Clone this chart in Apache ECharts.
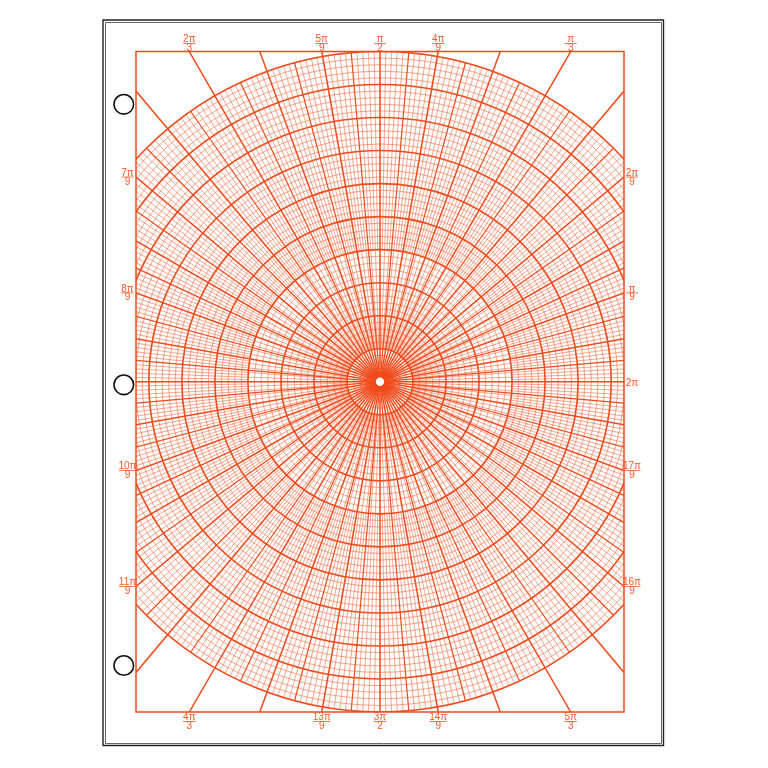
<!DOCTYPE html>
<html><head><meta charset="utf-8">
<script src="https://cdn.jsdelivr.net/npm/echarts@6/dist/echarts.min.js"></script>
<style>html,body{margin:0;padding:0;background:#fff}#c{width:768px;height:768px}</style>
</head><body><div id="c"></div>
<script>
// ---- grid parameters (polar graph paper) ----
const majorRadii = [1, 2, 3, 4, 5, 6, 7, 8, 9, 10];
const minorPerRing = 5;
const hubRadius = 0.15;
const ringAngleSteps = [5, 2, 2, 2, 1, 1, 1, 1, 1, 1]; // thin radial spacing (deg) per ring
const majorAngleStep = 10;
const mediumAngleStep = 5;
// ---- angle labels ----
const labelAngles = [120, 100, 90, 80, 60, 140, 160, 200, 220, 40, 20, 0, 340, 320, 240, 260, 270, 280, 300];
const labelNums = ['2π', '5π', 'π', '4π', 'π', '7π', '8π', '10π', '11π', '2π', 'π', '2π', '17π', '16π', '4π', '13π', '3π', '14π', '5π'];
const labelDens = ['3', '9', '2', '9', '3', '9', '9', '9', '9', '9', '9', '', '9', '9', '3', '9', '2', '9', '3'];

const yHalf = 10;
const xHalf = 10 * 488 / 660.5;
const MAJOR = '#f04a1a';
const MINOR = 'rgba(242,88,42,0.7)';
const LABEL = '#f05a28';

function edgeDist(aDeg) {
  const a = aDeg * Math.PI / 180, c = Math.abs(Math.cos(a)), s = Math.abs(Math.sin(a));
  return Math.min(c > 1e-9 ? xHalf / c : 1e9, s > 1e-9 ? yHalf / s : 1e9);
}

// circles: [radius, level]
const circleData = [];
for (let k = 1; k <= majorRadii.length; k++) {
  for (let j = 1; j < minorPerRing; j++) circleData.push([k - 1 + j / minorPerRing, 0]);
}
circleData.push([hubRadius, 2]);
majorRadii.forEach(r => circleData.push([r, 2]));

// radials: [angle, r0, r1, level]
const radialMinor = [], radialMajor = [];
for (let a = 0; a < 360; a++) {
  if (a % majorAngleStep === 0) radialMajor.push([a, hubRadius, edgeDist(a), 2]);
  else if (a % mediumAngleStep === 0) radialMajor.push([a, hubRadius, 10, 1]);
  else {
    const k = ringAngleSteps.findIndex(s => a % s === 0);
    if (k >= 0) radialMinor.push([a, k === 0 ? hubRadius : k, 10, 0]);
  }
}
const radialData = radialMinor.concat(radialMajor);
const labelData = labelAngles.map((a, i) => [a, i]);

function clipOf(params) {
  const cs = params.coordSys;
  return { type: 'rect', shape: { x: cs.x, y: cs.y, width: cs.width, height: cs.height } };
}
function renderCircle(params, api) {
  const r = api.value(0), lvl = api.value(1);
  const c = api.coord([0, 0]), e = api.coord([r, 0]);
  return {
    type: 'group',
    clipPath: clipOf(params),
    children: [{
      type: 'circle',
      shape: { cx: c[0], cy: c[1], r: e[0] - c[0] },
      style: { fill: null, stroke: lvl ? MAJOR : MINOR, lineWidth: lvl ? 1.6 : 0.75 }
    }]
  };
}
function renderRadial(params, api) {
  const a = api.value(0) * Math.PI / 180, r0 = api.value(1), r1 = api.value(2), lvl = api.value(3);
  const p0 = api.coord([r0 * Math.cos(a), r0 * Math.sin(a)]);
  const p1 = api.coord([r1 * Math.cos(a), r1 * Math.sin(a)]);
  return {
    type: 'group',
    clipPath: clipOf(params),
    children: [{
      type: 'line',
      shape: { x1: p0[0], y1: p0[1], x2: p1[0], y2: p1[1] },
      style: { stroke: lvl ? MAJOR : MINOR, lineWidth: lvl === 2 ? 1.5 : (lvl === 1 ? 1.2 : 0.75) }
    }]
  };
}
function renderLabel(params, api) {
  const aDeg = api.value(0), i = api.value(1);
  const a = aDeg * Math.PI / 180, t = edgeDist(aDeg);
  const p = api.coord([t * Math.cos(a), t * Math.sin(a)]);
  const side = Math.abs(t * Math.cos(a)) > xHalf - 1e-6;
  let x = p[0], y = p[1];
  if (side) { x += Math.cos(a) > 0 ? 8 : -8.5; }
  else { y += Math.sin(a) > 0 ? -8 : 9.5; }
  const num = labelNums[i], den = labelDens[i];
  const font = '10px "Liberation Sans", Arial, sans-serif';
  const children = [];
  if (!den) {
    children.push({ type: 'text', x: x, y: y + 1, style: { text: num, fill: LABEL, font: font, align: 'center', verticalAlign: 'middle' } });
  } else {
    const w = Math.max(12, 4.5 * num.length + 3.5);
    children.push({ type: 'text', x: x, y: y - 4, style: { text: num, fill: LABEL, font: font, align: 'center', verticalAlign: 'middle' } });
    children.push({ type: 'line', shape: { x1: x - w / 2, y1: y, x2: x + w / 2, y2: y }, style: { stroke: LABEL, lineWidth: 0.8 } });
    children.push({ type: 'text', x: x, y: y + 4.8, style: { text: den, fill: LABEL, font: font, align: 'center', verticalAlign: 'middle' } });
  }
  return { type: 'group', children: children };
}

const chart = echarts.init(document.getElementById('c'), null, { renderer: 'canvas' });
chart.setOption({
  animation: false,
  backgroundColor: '#fff',
  grid: { left: 136, top: 51.5, width: 488, height: 660.5, show: true, borderColor: MAJOR, borderWidth: 1.5, backgroundColor: 'transparent' },
  xAxis: { type: 'value', min: -xHalf, max: xHalf, show: false },
  yAxis: { type: 'value', min: -yHalf, max: yHalf, show: false },
  graphic: [
    { type: 'rect', shape: { x: 103, y: 20, width: 560.5, height: 725.5 }, style: { fill: null, stroke: '#222', lineWidth: 1.4 }, silent: true },
    { type: 'rect', shape: { x: 105.5, y: 22.5, width: 556, height: 721 }, style: { fill: null, stroke: '#666', lineWidth: 1 }, silent: true },
    { type: 'circle', shape: { cx: 123.8, cy: 104.3, r: 9.8 }, style: { fill: '#fff', stroke: '#111', lineWidth: 1.6 }, silent: true },
    { type: 'circle', shape: { cx: 123.8, cy: 384.8, r: 9.8 }, style: { fill: '#fff', stroke: '#111', lineWidth: 1.6 }, silent: true },
    { type: 'circle', shape: { cx: 123.8, cy: 665.5, r: 9.8 }, style: { fill: '#fff', stroke: '#111', lineWidth: 1.6 }, silent: true }
  ],
  series: [
    { type: 'custom', name: 'circles', coordinateSystem: 'cartesian2d', data: circleData, renderItem: renderCircle, silent: true, clip: true, z: 2 },
    { type: 'custom', name: 'radials', coordinateSystem: 'cartesian2d', data: radialData, renderItem: renderRadial, silent: true, clip: true, z: 3 },
    { type: 'custom', name: 'labels', coordinateSystem: 'cartesian2d', data: labelData, renderItem: renderLabel, silent: true, z: 4 }
  ]
});
</script>
</body></html>
